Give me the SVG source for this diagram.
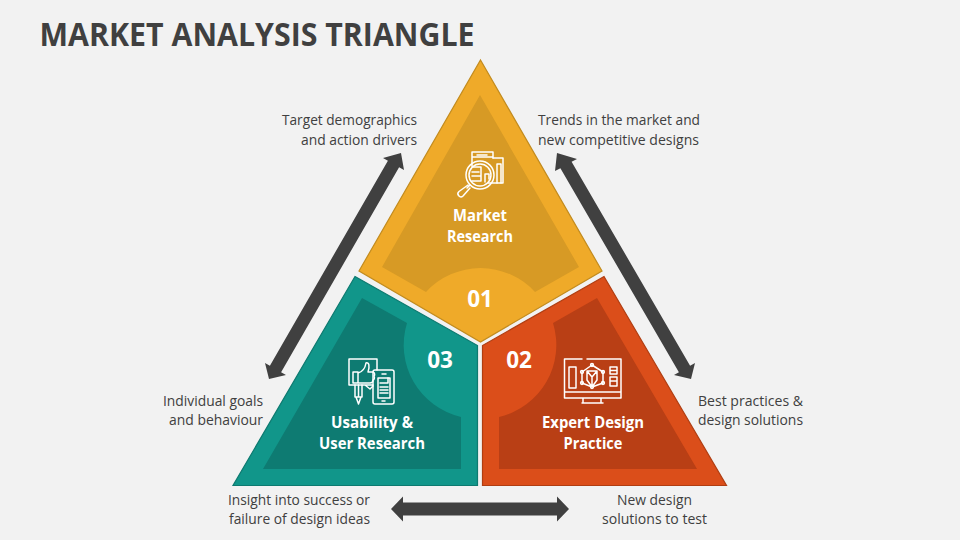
<svg xmlns="http://www.w3.org/2000/svg" width="960" height="540" viewBox="0 0 960 540">
<style>
.t{font-family:"Open Sans","Liberation Sans",sans-serif;font-size:14px;fill:#404040;lengthAdjust:spacingAndGlyphs}
.e{text-anchor:end}.s{text-anchor:start}.m{text-anchor:middle}
.w{font-family:"Open Sans","Liberation Sans",sans-serif;font-size:15.500px;font-weight:700;fill:#fff;text-anchor:middle}
.n{font-family:"Open Sans","Liberation Sans",sans-serif;font-size:22.500px;font-weight:700;fill:#fff;text-anchor:middle}
.i{fill:none;stroke:#fff;stroke-width:1.500;stroke-linejoin:round;stroke-linecap:round}
.a{fill:#404040}
</style>
<rect width="960" height="540" fill="#f2f2f2"/>
<text x="39.500" y="46" font-family="'Open Sans','Liberation Sans',sans-serif" font-size="31.500" font-weight="700" fill="#404040" textLength="435" lengthAdjust="spacingAndGlyphs">MARKET ANALYSIS TRIANGLE</text>
<g id="connectors">
<path class="a" d="M401 153L383 158L387.900 160.750L269.900 365.750L265 363L269 379L286 375L281.100 372.250L399.100 167.250L404 170Z"/>
<path class="a" d="M557 153L577 159L571.600 161.750L690.100 365.750L695 363L691 379L674 375L678.900 372.250L560.400 168.250L555 171Z"/>
<path class="a" d="M391 509L403 496.500V502.500H557V496.500L569 509L557 521.500V515.500H403V521.500Z"/>
</g>
<g id="node-01">
<path d="M480.500 60L602 271L480.500 342L359 271Z" fill="#efaa29" stroke="#c28b1e" stroke-width="1.200"/>
<path d="M480 95L579 267L535 292A74 74 0 0 0 426 292L382 267Z" fill="#d79a25"/>
<g class="i">
<path d="M472 166V152H493V158M472 157H493M477 155H487"/>
<path d="M493 158H503V183H488"/>
<circle cx="480" cy="175" r="14"/><circle cx="480" cy="175" r="11"/>
<path d="M472 167H481V181H472M472 172H479M472 176H481M485 182V174H489V179M497 183V164H501V183"/>
<path d="M470 185L467 188M468 185L459 191.500A2.800 2.800 0 0 0 463 196L470 188"/>
</g>
<text class="w" x="480" y="220.500" textLength="54" lengthAdjust="spacingAndGlyphs">Market</text>
<text class="w" x="480" y="241.500" textLength="66" lengthAdjust="spacingAndGlyphs">Research</text>
<text class="n" x="480" y="306.500">01</text>
</g>
<g id="node-02">
<path d="M604 276.500L726.500 485.500H482.500V345.500Z" fill="#db4e1a" stroke="#b03e12" stroke-width="1.200"/>
<path d="M597 298L697 469H499V417A74 74 0 0 0 553 323Z" fill="#b93f15"/>
<g class="i">
<path d="M582 359H564.500V398H621V359H587M564.500 392H621M583 398V403M601 398V403M582 403H603"/>
<path d="M569 367H576V388H569ZM610 367H617V374H610ZM610 377H617V386H610ZM610 370.500H617M610 381H617"/>
<path d="M592 365L603 372V383L592 387L582 383V372ZM592 377L587 371L597 371L592 377M592 377V387M587 371V380L592 387M597 371V380L592 387"/>
<circle cx="592" cy="365" r="1.400"/><circle cx="603" cy="372" r="1.400"/><circle cx="603" cy="383" r="1.400"/><circle cx="592" cy="387" r="1.400"/><circle cx="582" cy="383" r="1.400"/><circle cx="582" cy="372" r="1.400"/>
</g>
<text class="w" x="593" y="427.500" textLength="102" lengthAdjust="spacingAndGlyphs">Expert Design</text>
<text class="w" x="593" y="448.500" textLength="59" lengthAdjust="spacingAndGlyphs">Practice</text>
<text class="n" x="519" y="367.500">02</text>
</g>
<g id="node-03">
<path d="M355 276.500L477.500 345.500V485.500H233Z" fill="#11968a" stroke="#0d7a70" stroke-width="1.200"/>
<path d="M362 298L407 323A74 74 0 0 0 461 417V469H263Z" fill="#0e7b72"/>
<g class="i">
<path d="M377 370V359H349V385H373M365 385L370 389L373 386"/>
<path d="M353 372H358V383H353ZM358 373C362 372 365 369 366 363C369 362 370 366 368 372H373C375 373 375 375 374 376C375 378 374 380 373 380C373 382 372 383 370 383H358"/>
<path d="M355 385V397H362V385M356 397L358.500 404L361 397M358.500 397V385"/>
<rect x="373" y="370" width="21" height="34" rx="2"/>
<rect x="378" y="378" width="12" height="20"/>
<path d="M380 383H388V378M380 387H388M380 390H388M380 393H388M382 374H386M382 401H385"/>
</g>
<text class="w" x="372" y="427.500" textLength="82" lengthAdjust="spacingAndGlyphs">Usability &amp;</text>
<text class="w" x="372" y="448.500" textLength="106" lengthAdjust="spacingAndGlyphs">User Research</text>
<text class="n" x="440" y="367.500">03</text>
</g>
<g id="labels">
<text class="t e" x="417" y="125" textLength="135" lengthAdjust="spacingAndGlyphs">Target demographics</text>
<text class="t e" x="417" y="145" textLength="116" lengthAdjust="spacingAndGlyphs">and action drivers</text>
<text class="t s" x="538" y="125" textLength="162" lengthAdjust="spacingAndGlyphs">Trends in the market and</text>
<text class="t s" x="538" y="145" textLength="161" lengthAdjust="spacingAndGlyphs">new competitive designs</text>
<text class="t e" x="263" y="406" textLength="100" lengthAdjust="spacingAndGlyphs">Individual goals</text>
<text class="t e" x="263" y="425" textLength="94" lengthAdjust="spacingAndGlyphs">and behaviour</text>
<text class="t s" x="698" y="406" textLength="105" lengthAdjust="spacingAndGlyphs">Best practices &amp;</text>
<text class="t s" x="698" y="425" textLength="105" lengthAdjust="spacingAndGlyphs">design solutions</text>
<text class="t e" x="370" y="505" textLength="142" lengthAdjust="spacingAndGlyphs">Insight into success or</text>
<text class="t e" x="370" y="524" textLength="141" lengthAdjust="spacingAndGlyphs">failure of design ideas</text>
<text class="t e" x="692" y="505" textLength="75" lengthAdjust="spacingAndGlyphs">New design</text>
<text class="t e" x="707" y="524" textLength="105" lengthAdjust="spacingAndGlyphs">solutions to test</text>
</g>
</svg>
